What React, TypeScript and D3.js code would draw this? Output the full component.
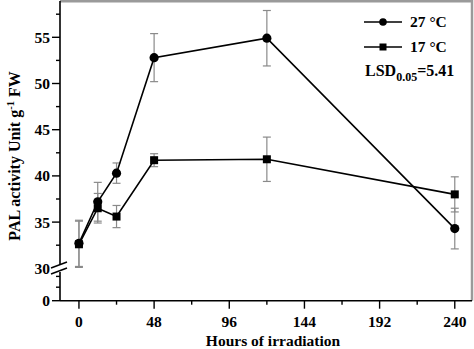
import React from "react";
import * as d3 from "d3";

const hours = [0, 12, 24, 48, 120, 240];
const series27 = [32.7, 37.2, 40.3, 52.8, 54.9, 34.3];
const err27 = [2.5, 2.1, 1.1, 2.6, 3.0, 2.2];
const series17 = [32.6, 36.5, 35.6, 41.7, 41.8, 38.0];
const err17 = [2.5, 1.6, 1.2, 0.7, 2.4, 1.9];
const xTicks = [0, 48, 96, 144, 192, 240];
const xMinor = [24, 72, 120, 168, 216];
const yTicksUpper = [35, 40, 45, 50, 55];
const yMinorUpper = [32.5, 37.5, 42.5, 47.5, 52.5, 57.5];
const yMinorLower = [12.5, 22.5];
const seriesNames = ["27 °C", "17 °C"];

const W = 474;
const H = 349;
const font = "'Liberation Serif', 'Times New Roman', serif";

export default function App() {
  const x = d3.scaleLinear().domain([-12.1, 251]).range([60, 472]);
  const yU = d3.scaleLinear().domain([30, 55]).range([268.3, 37.3]);
  const yL = d3.scaleLinear().domain([0, 30]).range([300.7, 268.3]);
  const y = (v: number) => (v >= 30 ? yU(v) : yL(v));
  const axisY = 300.7;
  const left = 60;
  const line = d3
    .line<number>()
    .x((_, i) => x(hours[i]))
    .y((d) => y(d));

  const errBars = (vals: number[], errs: number[], key: string) =>
    vals.map((v, i) => {
      const cx = x(hours[i]);
      const t = y(v + errs[i]);
      const b = y(v - errs[i]);
      return (
        <g key={key + i} stroke="#8a8a8a" strokeWidth={1.2}>
          <line x1={cx} x2={cx} y1={t} y2={b} />
          <line x1={cx - 4} x2={cx + 4} y1={t} y2={t} />
          <line x1={cx - 4} x2={cx + 4} y1={b} y2={b} />
        </g>
      );
    });

  return (
    <svg
      width={W}
      height={H}
      style={{ position: "absolute", left: 0, top: 0, background: "#fff" }}
      fontFamily={font}
      fontWeight="bold"
    >
      {/* frame top/right */}
      <line x1={left} x2={472} y1={1} y2={1} stroke="#9a9a9a" strokeWidth={3} />
      <line x1={472} x2={472} y1={0} y2={axisY} stroke="#9a9a9a" strokeWidth={2.5} />

      {/* error bars */}
      {errBars(series17, err17, "e17")}
      {errBars(series27, err27, "e27")}

      {/* lines */}
      <path d={line(series27) || ""} fill="none" stroke="#000" strokeWidth={1.6} />
      <path d={line(series17) || ""} fill="none" stroke="#000" strokeWidth={1.6} />

      {/* markers */}
      {series27.map((v, i) => (
        <circle key={"c" + i} cx={x(hours[i])} cy={y(v)} r={4.6} fill="#000" />
      ))}
      {series17.map((v, i) => (
        <rect key={"s" + i} x={x(hours[i]) - 4} y={y(v) - 4} width={8} height={8} fill="#000" />
      ))}

      {/* y axis */}
      <line x1={left} x2={left} y1={1} y2={265} stroke="#000" strokeWidth={1.6} />
      <line x1={left} x2={left} y1={272} y2={axisY} stroke="#000" strokeWidth={1.6} />
      {/* break marks */}
      <line x1={51} x2={67} y1={268} y2={262} stroke="#000" strokeWidth={1.4} />
      <line x1={51} x2={67} y1={274} y2={268} stroke="#000" strokeWidth={1.4} />
      {yTicksUpper.map((t) => (
        <g key={"yt" + t}>
          <line x1={left - 8} x2={left} y1={yU(t)} y2={yU(t)} stroke="#000" strokeWidth={1.4} />
          <text x={left - 10} y={yU(t)} dy="0.35em" textAnchor="end" fontSize={15.5}>
            {t}
          </text>
        </g>
      ))}
      {yMinorUpper.map((t) => (
        <line key={"ym" + t} x1={left - 4} x2={left} y1={yU(t)} y2={yU(t)} stroke="#000" strokeWidth={1.4} />
      ))}
      {yMinorLower.map((t) => (
        <line key={"yl" + t} x1={left - 4} x2={left} y1={yL(t)} y2={yL(t)} stroke="#000" strokeWidth={1.4} />
      ))}
      <text x={left - 10} y={yU(30)} dy="0.35em" textAnchor="end" fontSize={15.5}>
        30
      </text>
      <line x1={left - 8} x2={left} y1={axisY} y2={axisY} stroke="#000" strokeWidth={1.4} />
      <text x={left - 10} y={axisY} dy="0.35em" textAnchor="end" fontSize={15.5}>
        0
      </text>

      {/* x axis */}
      <line x1={left} x2={472} y1={axisY} y2={axisY} stroke="#000" strokeWidth={1.6} />
      {xTicks.map((t) => (
        <g key={"xt" + t}>
          <line x1={x(t)} x2={x(t)} y1={axisY} y2={axisY + 8} stroke="#000" strokeWidth={1.4} />
          <text x={x(t)} y={axisY + 26} textAnchor="middle" fontSize={15.5}>
            {t}
          </text>
        </g>
      ))}
      {xMinor.map((t) => (
        <line key={"xm" + t} x1={x(t)} x2={x(t)} y1={axisY} y2={axisY + 4} stroke="#000" strokeWidth={1.4} />
      ))}

      {/* axis labels */}
      <text x={273} y={346} textAnchor="middle" fontSize={15.5}>
        Hours of irradiation
      </text>
      <text transform="translate(20,156) rotate(-90)" textAnchor="middle" fontSize={16}>
        PAL activity Unit g<tspan dy={-6} fontSize={10.5}>-1</tspan>
        <tspan dy={6}> FW</tspan>
      </text>

      {/* legend */}
      <line x1={364} x2={402} y1={22} y2={22} stroke="#000" strokeWidth={1.6} />
      <circle cx={383} cy={22} r={3.8} fill="#000" />
      <text x={410} y={22} dy="0.35em" fontSize={15.5}>
        {seriesNames[0]}
      </text>
      <line x1={364} x2={402} y1={47} y2={47} stroke="#000" strokeWidth={1.6} />
      <rect x={379.5} y={43.5} width={7} height={7} fill="#000" />
      <text x={410} y={47} dy="0.35em" fontSize={15.5}>
        {seriesNames[1]}
      </text>
      <text x={365} y={76} fontSize={16}>
        LSD<tspan dy={5} fontSize={12}>0.05</tspan>
        <tspan dy={-5}>=5.41</tspan>
      </text>
    </svg>
  );
}
